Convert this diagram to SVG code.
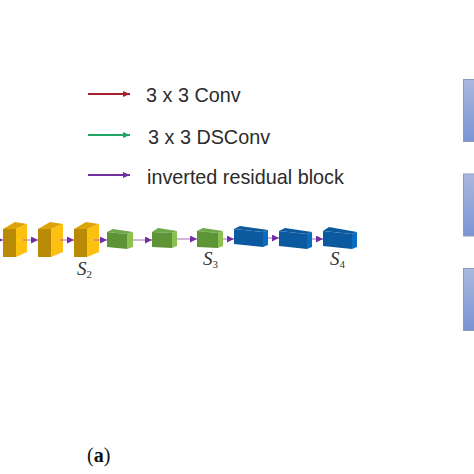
<svg xmlns="http://www.w3.org/2000/svg" width="474" height="474" viewBox="0 0 474 474">
<defs>
<marker id="r" markerWidth="8" markerHeight="7" refX="7" refY="3" orient="auto" markerUnits="userSpaceOnUse"><path d="M0 0L7 3L0 6Z" fill="#a3202c"/></marker>
<marker id="g" markerWidth="8" markerHeight="7" refX="7" refY="3" orient="auto" markerUnits="userSpaceOnUse"><path d="M0 0L7 3L0 6Z" fill="#1fa566"/></marker>
<marker id="p" markerWidth="8" markerHeight="7" refX="7" refY="3" orient="auto" markerUnits="userSpaceOnUse"><path d="M0 0L7 3L0 6Z" fill="#7030a0"/></marker>
<marker id="c" markerWidth="8" markerHeight="8" refX="7" refY="3.500" orient="auto" markerUnits="userSpaceOnUse"><path d="M0 0L7 3.500L0 7Z" fill="#7030a0"/></marker>
<linearGradient id="b" x1="0" y1="0" x2="0" y2="1"><stop offset="0" stop-color="#a9b8de"/><stop offset="1" stop-color="#7a94d4"/></linearGradient>
</defs>
<style>
.t{font-family:"Liberation Sans",Arial,sans-serif;font-size:19.800px;fill:#2b2b2b}
.s{font-family:"Liberation Serif","Times New Roman",serif;font-style:italic;font-size:19px;fill:#333}
.sub{font-size:11px;font-style:normal}
.l{stroke-width:2;fill:none}
.c{stroke:#a66cc0;stroke-width:1;fill:none;marker-end:url(#c)}
.yd{fill:#b98a06}.yl{fill:#fcc010}.yt{fill:#dca408}
.gd{fill:#5d9436}.gl{fill:#8cc050}.gt{fill:#6fa84a}
.bd{fill:#0b5a9f}.bl{fill:#0a6cc0}.bt{fill:#0c5a9e}
.p{fill:url(#b);stroke:#8d9ab8;stroke-width:1}
</style>
<g id="legend">
<line class="l" x1="88" y1="94" x2="130" y2="94" stroke="#a3202c" marker-end="url(#r)"/>
<line class="l" x1="88" y1="135" x2="130" y2="135" stroke="#1fa566" marker-end="url(#g)"/>
<line class="l" x1="88" y1="175" x2="130" y2="175" stroke="#7030a0" marker-end="url(#p)"/>
<text class="t" x="146" y="102">3 x 3 Conv</text>
<text class="t" x="148" y="144">3 x 3 DSConv</text>
<text class="t" x="147" y="184">inverted residual block</text>
</g>
<g id="y1"><path class="yt" d="M3 229L15 222L27 224L16 229Z"/><path class="yd" d="M3 229H16V257H3Z"/><path class="yl" d="M16 229L27 224V252L16 257Z"/></g>
<g id="y2"><path class="yt" d="M38 229L50 222L63 224L51 229Z"/><path class="yd" d="M38 229H51V257H38Z"/><path class="yl" d="M51 229L63 224V252L51 257Z"/></g>
<g id="y3"><path class="yt" d="M74 229L86 222L99 224L87 229Z"/><path class="yd" d="M74 229H87V257H74Z"/><path class="yl" d="M87 229L99 224V252L87 257Z"/></g>
<g id="g1"><path class="gt" d="M107 232L113 229L133 232L127 234Z"/><path class="gd" d="M107 232L127 234V249L107 247Z"/><path class="gl" d="M127 234L133 232V247L127 249Z"/></g>
<g id="g2"><path class="gt" d="M152 232L158 228L177 231L172 233Z"/><path class="gd" d="M152 232L172 233V248L152 247Z"/><path class="gl" d="M172 233L177 231V246L172 248Z"/></g>
<g id="g3"><path class="gt" d="M197 231L203 228L223 231L218 233Z"/><path class="gd" d="M197 231L218 233V248L197 247Z"/><path class="gl" d="M218 233L223 231V246L218 248Z"/></g>
<g id="b1"><path class="bt" d="M234 229L240 226L268 230L263 232Z"/><path class="bd" d="M234 229L263 232V247L234 244Z"/><path class="bl" d="M263 232L268 230V245L263 247Z"/></g>
<g id="b2"><path class="bt" d="M279 231L285 228L312 232L307 234Z"/><path class="bd" d="M279 231L307 234V249L279 246Z"/><path class="bl" d="M307 234L312 232V247L307 249Z"/></g>
<g id="b3"><path class="bt" d="M323 231L329 227L357 232L352 234Z"/><path class="bd" d="M323 231L352 234V249L323 246Z"/><path class="bl" d="M352 234L357 232V247L352 249Z"/></g>
<g id="connectors">
<line class="c" x1="0" y1="240" x2="3" y2="240"/>
<line class="c" x1="23" y1="240" x2="38" y2="240"/>
<line class="c" x1="60" y1="240" x2="74" y2="240"/>
<line class="c" x1="94" y1="240" x2="107" y2="240"/>
<line class="c" x1="133" y1="240" x2="152" y2="240"/>
<line class="c" x1="177" y1="239" x2="197" y2="239"/>
<line class="c" x1="223" y1="239" x2="234" y2="239"/>
<line class="c" x1="268" y1="238" x2="279" y2="238"/>
<line class="c" x1="312" y1="239" x2="323" y2="239"/>
</g>
<g id="labels">
<text class="s" x="77" y="275">S<tspan class="sub" dy="3">2</tspan></text>
<text class="s" x="203" y="265">S<tspan class="sub" dy="3">3</tspan></text>
<text class="s" x="330" y="265">S<tspan class="sub" dy="3">4</tspan></text>
<text x="87" y="462" font-family="Liberation Serif,serif" font-size="20" fill="#111">(<tspan font-weight="bold">a</tspan>)</text>
</g>
<g id="p1"><rect class="p" x="463.500" y="79.500" width="14" height="62"/></g>
<g id="p2"><rect class="p" x="463.500" y="174" width="14" height="62"/></g>
<g id="p3"><rect class="p" x="463.500" y="268.500" width="14" height="62"/></g>
</svg>
